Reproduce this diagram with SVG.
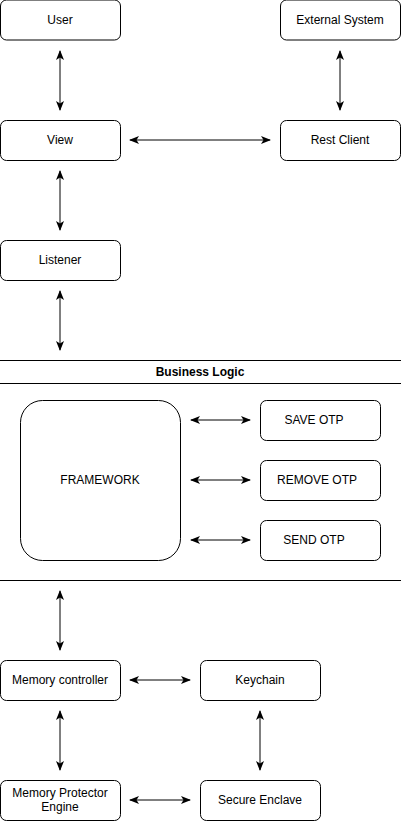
<svg xmlns="http://www.w3.org/2000/svg" width="401" height="821" viewBox="0 0 401 821">
<defs>
<style>
.box{fill:#fff;stroke:#000;stroke-width:1}
.lbl{font-family:"Liberation Sans",Arial,sans-serif;font-size:12px;fill:#000;text-anchor:middle;dominant-baseline:central}
.bold{font-weight:bold}
.conn{stroke:#000;stroke-width:1;fill:none;marker-start:url(#ah);marker-end:url(#ah)}
.sep{stroke:#000;stroke-width:1}
</style>
<marker id="ah" viewBox="0 0 10 8" refX="9" refY="4" markerWidth="10" markerHeight="8" markerUnits="userSpaceOnUse" orient="auto-start-reverse">
<path d="M0,0 L10,4 L0,8 L2.5,4 z" fill="#000"/>
</marker>
</defs>
<rect width="401" height="821" fill="#fff"/>
<g id="connectors">
<line class="conn" x1="60" y1="51" x2="60" y2="110"/>
<line class="conn" x1="340" y1="51" x2="340" y2="110"/>
<line class="conn" x1="130" y1="140" x2="270" y2="140"/>
<line class="conn" x1="60" y1="171" x2="60" y2="230"/>
<line class="conn" x1="60" y1="291" x2="60" y2="350"/>
<line class="conn" x1="191" y1="420" x2="250" y2="420"/>
<line class="conn" x1="191" y1="480" x2="250" y2="480"/>
<line class="conn" x1="191" y1="540" x2="250" y2="540"/>
<line class="conn" x1="60" y1="591" x2="60" y2="650"/>
<line class="conn" x1="130" y1="680" x2="190" y2="680"/>
<line class="conn" x1="60" y1="711" x2="60" y2="770"/>
<line class="conn" x1="260" y1="711" x2="260" y2="770"/>
<line class="conn" x1="130" y1="800" x2="190" y2="800"/>
</g>
<g id="user"><rect class="box" x="0.5" y="0" width="120" height="40" rx="6"/><text class="lbl" x="60" y="20">User</text></g>
<g id="external-system"><rect class="box" x="280.5" y="0" width="120" height="40" rx="6"/><text class="lbl" x="340" y="20">External System</text></g>
<g id="view"><rect class="box" x="0.5" y="120.5" width="120" height="40" rx="6"/><text class="lbl" x="60" y="140">View</text></g>
<g id="rest-client"><rect class="box" x="280.5" y="120.5" width="120" height="40" rx="6"/><text class="lbl" x="340" y="140">Rest Client</text></g>
<g id="listener"><rect class="box" x="0.5" y="240.5" width="120" height="40" rx="6"/><text class="lbl" x="60" y="260">Listener</text></g>
<g id="business-logic">
<line class="sep" x1="0" y1="360.5" x2="401" y2="360.5"/>
<line class="sep" x1="0" y1="383.5" x2="401" y2="383.5"/>
<text class="lbl bold" x="200" y="372">Business Logic</text>
</g>
<g id="framework"><rect class="box" x="20.5" y="400.5" width="160" height="160" rx="22"/><text class="lbl" x="100" y="480">FRAMEWORK</text></g>
<g id="save-otp"><rect class="box" x="260.5" y="400.5" width="120" height="40" rx="6"/><text class="lbl" x="314" y="420">SAVE OTP</text></g>
<g id="remove-otp"><rect class="box" x="260.5" y="460.5" width="120" height="40" rx="6"/><text class="lbl" x="317" y="480">REMOVE OTP</text></g>
<g id="send-otp"><rect class="box" x="260.5" y="520.5" width="120" height="40" rx="6"/><text class="lbl" x="314" y="540">SEND OTP</text></g>
<g id="separator"><line class="sep" x1="0" y1="580.5" x2="401" y2="580.5"/></g>
<g id="memory-controller"><rect class="box" x="0.5" y="660.5" width="120" height="40" rx="6"/><text class="lbl" x="60" y="680">Memory controller</text></g>
<g id="keychain"><rect class="box" x="200.5" y="660.5" width="120" height="40" rx="6"/><text class="lbl" x="260" y="680">Keychain</text></g>
<g id="memory-protector-engine"><rect class="box" x="0.5" y="780.5" width="120" height="40" rx="6"/><text class="lbl" x="60" y="793">Memory Protector</text><text class="lbl" x="60" y="807">Engine</text></g>
<g id="secure-enclave"><rect class="box" x="200.5" y="780.5" width="120" height="40" rx="6"/><text class="lbl" x="260" y="800">Secure Enclave</text></g>
</svg>
